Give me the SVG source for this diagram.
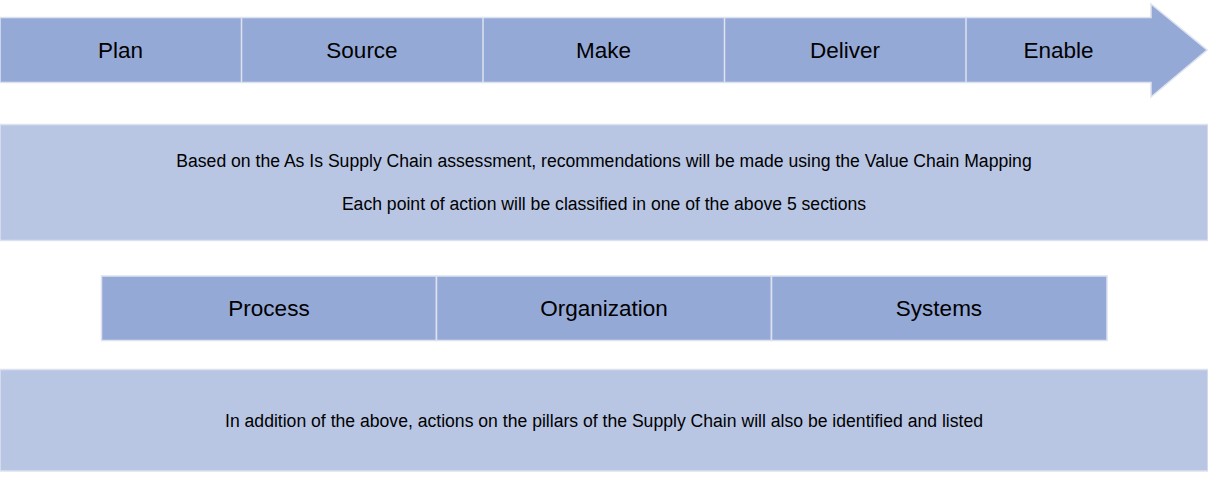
<svg xmlns="http://www.w3.org/2000/svg" width="1208" height="483" viewBox="0 0 1208 483">
<style>
.dark{fill:#95a9d7;stroke:#dde2ee;stroke-width:1.5}
.light{fill:#b8c6e4;stroke:#dde2ee;stroke-width:1.5}
.big{font-family:"Liberation Sans",Arial,sans-serif;font-size:22.5px;fill:#000;text-anchor:middle}
.small{font-family:"Liberation Sans",Arial,sans-serif;font-size:17.6px;fill:#000;text-anchor:middle}
</style>
<rect width="1208" height="483" fill="#fff"/>
<g id="arrow">
<path class="dark" d="M0,17.5 H1151 V4 L1207,50 L1151,97 V82.5 H0 Z"/>
</g>
<g id="connectors">
<line x1="241.5" y1="17.5" x2="241.5" y2="82.5" stroke="#dde2ee" stroke-width="1.5"/>
<line x1="483" y1="17.5" x2="483" y2="82.5" stroke="#dde2ee" stroke-width="1.5"/>
<line x1="724.5" y1="17.5" x2="724.5" y2="82.5" stroke="#dde2ee" stroke-width="1.5"/>
<line x1="966" y1="17.5" x2="966" y2="82.5" stroke="#dde2ee" stroke-width="1.5"/>
</g>
<g id="plan"><text class="big" x="120.5" y="58">Plan</text></g>
<g id="source"><text class="big" x="362" y="58">Source</text></g>
<g id="make"><text class="big" x="603.5" y="58">Make</text></g>
<g id="deliver"><text class="big" x="845" y="58">Deliver</text></g>
<g id="enable"><text class="big" x="1058.5" y="58">Enable</text></g>
<g id="assessment">
<rect class="light" x="0" y="124.5" width="1208" height="116"/>
<text class="small" x="604" y="167.3">Based on the As Is Supply Chain assessment, recommendations will be made using the Value Chain Mapping</text>
<text class="small" x="604" y="210">Each point of action will be classified in one of the above 5 sections</text>
</g>
<g id="process">
<rect class="dark" x="101.5" y="276" width="335" height="64.5"/>
<text class="big" x="269" y="316">Process</text>
</g>
<g id="organization">
<rect class="dark" x="436.5" y="276" width="335" height="64.5"/>
<text class="big" x="604" y="316">Organization</text>
</g>
<g id="systems">
<rect class="dark" x="771.5" y="276" width="335.5" height="64.5"/>
<text class="big" x="939" y="316">Systems</text>
</g>
<g id="pillars">
<rect class="light" x="0" y="369.5" width="1208" height="101.5"/>
<text class="small" x="604" y="427">In addition of the above, actions on the pillars of the Supply Chain will also be identified and listed</text>
</g>
</svg>
